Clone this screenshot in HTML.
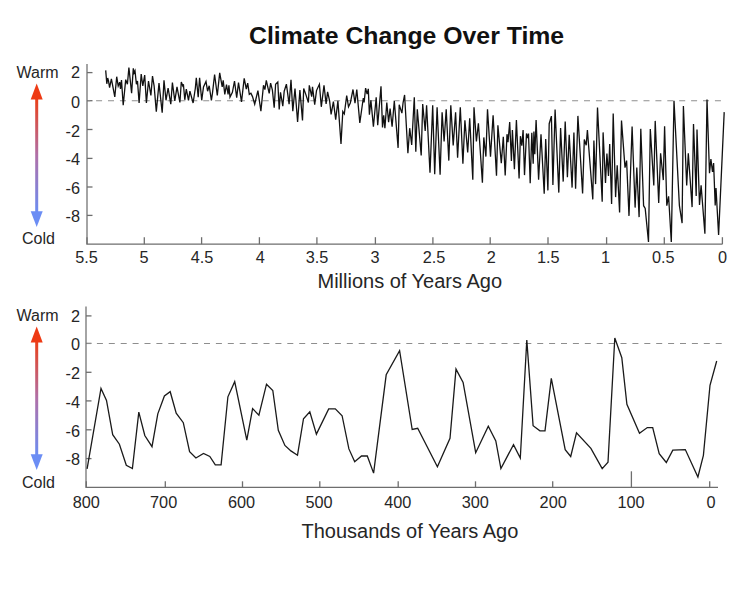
<!DOCTYPE html><html><head><meta charset="utf-8"><style>html,body{margin:0;padding:0;background:#fff;width:744px;height:595px;overflow:hidden}</style></head><body><svg width="744" height="595" viewBox="0 0 744 595" style="position:absolute;left:0;top:0">
<defs><linearGradient id="g" x1="0" y1="0" x2="0" y2="1"><stop offset="0" stop-color="#ec3a12"/><stop offset="1" stop-color="#6a8cf2"/></linearGradient></defs>
<text x="249" y="43.6" font-family="Liberation Sans, sans-serif" font-weight="bold" font-size="24.8" fill="#111">Climate Change Over Time</text>
<rect x="35.2" y="98.5" width="3" height="113.69999999999999" fill="url(#g0)"/>
<defs><linearGradient id="g0" gradientUnits="userSpaceOnUse" x1="0" y1="99.5" x2="0" y2="211.2"><stop offset="0" stop-color="#e9401a"/><stop offset="0.5" stop-color="#b070a8"/><stop offset="1" stop-color="#6d8cf0"/></linearGradient></defs>
<polygon points="36.7,83.5 42.7,99.5 30.700000000000003,99.5" fill="#ee3a14"/>
<polygon points="36.7,226.9 42.7,211.2 30.700000000000003,211.2" fill="#6b8df4"/>
<text x="16.5" y="78.1" font-family="Liberation Sans, sans-serif" font-size="16" fill="#262626">Warm</text>
<text x="22" y="244.4" font-family="Liberation Sans, sans-serif" font-size="16" fill="#262626">Cold</text>
<line x1="87.0" y1="72.6" x2="92.5" y2="72.6" stroke="#6e6e6e" stroke-width="1.3"/>
<text x="80" y="77.80" text-anchor="end" font-family="Liberation Sans, sans-serif" font-size="16.3" fill="#262626">2</text>
<line x1="87.0" y1="100.7" x2="92.5" y2="100.7" stroke="#6e6e6e" stroke-width="1.3"/>
<text x="80" y="107.90" text-anchor="end" font-family="Liberation Sans, sans-serif" font-size="16.3" fill="#262626">0</text>
<line x1="87.0" y1="129.5" x2="92.5" y2="129.5" stroke="#6e6e6e" stroke-width="1.3"/>
<text x="80" y="136.90" text-anchor="end" font-family="Liberation Sans, sans-serif" font-size="16.3" fill="#262626">-2</text>
<line x1="87.0" y1="158.4" x2="92.5" y2="158.4" stroke="#6e6e6e" stroke-width="1.3"/>
<text x="80" y="164.60" text-anchor="end" font-family="Liberation Sans, sans-serif" font-size="16.3" fill="#262626">-4</text>
<line x1="87.0" y1="187.0" x2="92.5" y2="187.0" stroke="#6e6e6e" stroke-width="1.3"/>
<text x="80" y="193.60" text-anchor="end" font-family="Liberation Sans, sans-serif" font-size="16.3" fill="#262626">-6</text>
<line x1="87.0" y1="215.4" x2="92.5" y2="215.4" stroke="#6e6e6e" stroke-width="1.3"/>
<text x="80" y="222.00" text-anchor="end" font-family="Liberation Sans, sans-serif" font-size="16.3" fill="#262626">-8</text>
<line x1="87.0" y1="100.7" x2="721.5" y2="100.7" stroke="#8e8e8e" stroke-width="1.15" stroke-dasharray="6 5.9" stroke-dashoffset="2.799999999999997"/>
<line x1="87" y1="244.2" x2="87" y2="237.2" stroke="#6e6e6e" stroke-width="1.3"/>
<text x="86.60" y="262.9" text-anchor="middle" font-family="Liberation Sans, sans-serif" font-size="16.3" fill="#262626">5.5</text>
<line x1="144.3" y1="244.2" x2="144.3" y2="237.2" stroke="#6e6e6e" stroke-width="1.3"/>
<text x="144.00" y="262.9" text-anchor="middle" font-family="Liberation Sans, sans-serif" font-size="16.3" fill="#262626">5</text>
<line x1="201.6" y1="244.2" x2="201.6" y2="237.2" stroke="#6e6e6e" stroke-width="1.3"/>
<text x="202.05" y="262.9" text-anchor="middle" font-family="Liberation Sans, sans-serif" font-size="16.3" fill="#262626">4.5</text>
<line x1="259.4" y1="244.2" x2="259.4" y2="237.2" stroke="#6e6e6e" stroke-width="1.3"/>
<text x="260.25" y="262.9" text-anchor="middle" font-family="Liberation Sans, sans-serif" font-size="16.3" fill="#262626">4</text>
<line x1="316.9" y1="244.2" x2="316.9" y2="237.2" stroke="#6e6e6e" stroke-width="1.3"/>
<text x="317.10" y="262.9" text-anchor="middle" font-family="Liberation Sans, sans-serif" font-size="16.3" fill="#262626">3.5</text>
<line x1="375.4" y1="244.2" x2="375.4" y2="237.2" stroke="#6e6e6e" stroke-width="1.3"/>
<text x="375.05" y="262.9" text-anchor="middle" font-family="Liberation Sans, sans-serif" font-size="16.3" fill="#262626">3</text>
<line x1="432.9" y1="244.2" x2="432.9" y2="237.2" stroke="#6e6e6e" stroke-width="1.3"/>
<text x="434.05" y="262.9" text-anchor="middle" font-family="Liberation Sans, sans-serif" font-size="16.3" fill="#262626">2.5</text>
<line x1="490.2" y1="244.2" x2="490.2" y2="237.2" stroke="#6e6e6e" stroke-width="1.3"/>
<text x="491.40" y="262.9" text-anchor="middle" font-family="Liberation Sans, sans-serif" font-size="16.3" fill="#262626">2</text>
<line x1="548" y1="244.2" x2="548" y2="237.2" stroke="#6e6e6e" stroke-width="1.3"/>
<text x="548.35" y="262.9" text-anchor="middle" font-family="Liberation Sans, sans-serif" font-size="16.3" fill="#262626">1.5</text>
<line x1="606.6" y1="244.2" x2="606.6" y2="237.2" stroke="#6e6e6e" stroke-width="1.3"/>
<text x="605.60" y="262.9" text-anchor="middle" font-family="Liberation Sans, sans-serif" font-size="16.3" fill="#262626">1</text>
<line x1="664.3" y1="244.2" x2="664.3" y2="237.2" stroke="#6e6e6e" stroke-width="1.3"/>
<text x="663.25" y="262.9" text-anchor="middle" font-family="Liberation Sans, sans-serif" font-size="16.3" fill="#262626">0.5</text>
<line x1="722.4" y1="244.2" x2="722.4" y2="237.2" stroke="#6e6e6e" stroke-width="1.3"/>
<text x="722.50" y="262.9" text-anchor="middle" font-family="Liberation Sans, sans-serif" font-size="16.3" fill="#262626">0</text>
<text x="317.5" y="288.1" font-family="Liberation Sans, sans-serif" font-size="20" fill="#262626">Millions of Years Ago</text>
<rect x="35.2" y="341.5" width="3" height="113.69999999999999" fill="url(#g243)"/>
<defs><linearGradient id="g243" gradientUnits="userSpaceOnUse" x1="0" y1="342.5" x2="0" y2="454.2"><stop offset="0" stop-color="#e9401a"/><stop offset="0.5" stop-color="#b070a8"/><stop offset="1" stop-color="#6d8cf0"/></linearGradient></defs>
<polygon points="36.7,326.5 42.7,342.5 30.700000000000003,342.5" fill="#ee3a14"/>
<polygon points="36.7,469.9 42.7,454.2 30.700000000000003,454.2" fill="#6b8df4"/>
<text x="16.5" y="321.1" font-family="Liberation Sans, sans-serif" font-size="16" fill="#262626">Warm</text>
<text x="22" y="488.0" font-family="Liberation Sans, sans-serif" font-size="16" fill="#262626">Cold</text>
<line x1="86.0" y1="315.9" x2="91.5" y2="315.9" stroke="#6e6e6e" stroke-width="1.3"/>
<text x="80" y="322.20" text-anchor="end" font-family="Liberation Sans, sans-serif" font-size="16.3" fill="#262626">2</text>
<line x1="86.0" y1="343.4" x2="91.5" y2="343.4" stroke="#6e6e6e" stroke-width="1.3"/>
<text x="80" y="350.00" text-anchor="end" font-family="Liberation Sans, sans-serif" font-size="16.3" fill="#262626">0</text>
<line x1="86.0" y1="372.3" x2="91.5" y2="372.3" stroke="#6e6e6e" stroke-width="1.3"/>
<text x="80" y="378.90" text-anchor="end" font-family="Liberation Sans, sans-serif" font-size="16.3" fill="#262626">-2</text>
<line x1="86.0" y1="400.9" x2="91.5" y2="400.9" stroke="#6e6e6e" stroke-width="1.3"/>
<text x="80" y="407.90" text-anchor="end" font-family="Liberation Sans, sans-serif" font-size="16.3" fill="#262626">-4</text>
<line x1="86.0" y1="429.8" x2="91.5" y2="429.8" stroke="#6e6e6e" stroke-width="1.3"/>
<text x="80" y="436.60" text-anchor="end" font-family="Liberation Sans, sans-serif" font-size="16.3" fill="#262626">-6</text>
<line x1="86.0" y1="458.6" x2="91.5" y2="458.6" stroke="#6e6e6e" stroke-width="1.3"/>
<text x="80" y="465.30" text-anchor="end" font-family="Liberation Sans, sans-serif" font-size="16.3" fill="#262626">-8</text>
<line x1="86.0" y1="343.5" x2="722.3" y2="343.5" stroke="#8e8e8e" stroke-width="1.15" stroke-dasharray="6 5.9" stroke-dashoffset="1.0"/>
<line x1="86.3" y1="487.3" x2="86.3" y2="481.3" stroke="#6e6e6e" stroke-width="1.3"/>
<text x="86.30" y="508.2" text-anchor="middle" font-family="Liberation Sans, sans-serif" font-size="16.3" fill="#262626">800</text>
<line x1="165.3" y1="487.3" x2="165.3" y2="481.3" stroke="#6e6e6e" stroke-width="1.3"/>
<text x="163.65" y="508.2" text-anchor="middle" font-family="Liberation Sans, sans-serif" font-size="16.3" fill="#262626">700</text>
<line x1="242.5" y1="487.3" x2="242.5" y2="481.3" stroke="#6e6e6e" stroke-width="1.3"/>
<text x="241.55" y="508.2" text-anchor="middle" font-family="Liberation Sans, sans-serif" font-size="16.3" fill="#262626">600</text>
<line x1="319.8" y1="487.3" x2="319.8" y2="481.3" stroke="#6e6e6e" stroke-width="1.3"/>
<text x="319.00" y="508.2" text-anchor="middle" font-family="Liberation Sans, sans-serif" font-size="16.3" fill="#262626">500</text>
<line x1="398.2" y1="487.3" x2="398.2" y2="481.3" stroke="#6e6e6e" stroke-width="1.3"/>
<text x="397.75" y="508.2" text-anchor="middle" font-family="Liberation Sans, sans-serif" font-size="16.3" fill="#262626">400</text>
<line x1="475.5" y1="487.3" x2="475.5" y2="481.3" stroke="#6e6e6e" stroke-width="1.3"/>
<text x="475.25" y="508.2" text-anchor="middle" font-family="Liberation Sans, sans-serif" font-size="16.3" fill="#262626">300</text>
<line x1="552.7" y1="487.3" x2="552.7" y2="481.3" stroke="#6e6e6e" stroke-width="1.3"/>
<text x="553.20" y="508.2" text-anchor="middle" font-family="Liberation Sans, sans-serif" font-size="16.3" fill="#262626">200</text>
<line x1="631.4" y1="487.3" x2="631.4" y2="471.3" stroke="#6e6e6e" stroke-width="1.3"/>
<text x="631.10" y="508.2" text-anchor="middle" font-family="Liberation Sans, sans-serif" font-size="16.3" fill="#262626">100</text>
<line x1="709.7" y1="487.3" x2="709.7" y2="481.3" stroke="#6e6e6e" stroke-width="1.3"/>
<text x="711.10" y="508.2" text-anchor="middle" font-family="Liberation Sans, sans-serif" font-size="16.3" fill="#262626">0</text>
<text x="301.5" y="538.2" font-family="Liberation Sans, sans-serif" font-size="20" fill="#262626">Thousands of Years Ago</text>
<polyline points="87.0,64 87.0,244.2 722.4,244.2" fill="none" stroke="#6e6e6e" stroke-width="1.25"/>
<polyline points="86.0,306.4 86.0,487.3 718,487.3" fill="none" stroke="#6e6e6e" stroke-width="1.25"/>
<polyline points="105.7,70.4 106.8,83.8 107.7,78.0 108.5,80.9 109.6,87.6 111.4,78.8 114.8,96.9 116.7,76.7 118.2,86.0 119.7,82.2 120.5,88.9 121.5,80.1 123.2,105.3 125.7,79.6 127.4,84.3 128.9,67.5 131.6,93.1 133.3,68.3 134.1,72.9 135.0,70.8 136.4,84.2 137.5,81.0 139.1,103.0 141.2,74.0 142.8,85.8 144.7,75.1 146.4,103.0 148.5,81.0 150.9,95.5 152.5,76.1 154.1,85.8 156.3,111.6 159.0,83.1 162.2,112.7 164.0,80.4 166.0,100.3 168.1,88.0 170.8,104.1 172.4,82.6 174.8,100.9 177.0,86.9 179.9,102.5 181.3,82.0 182.7,85.8 183.4,84.2 184.8,99.8 186.3,89.0 188.5,100.3 189.9,91.2 193.1,103.0 195.3,88.5 196.3,77.7 198.2,97.1 199.6,77.7 201.7,100.3 203.5,86.9 206.0,81.5 207.6,91.2 209.2,85.8 211.4,100.3 212.5,92.8 214.6,74.5 217.3,95.5 219.7,72.9 222.2,86.9 223.2,80.4 224.8,94.4 226.5,84.7 228.1,94.4 228.9,85.3 230.0,97.1 232.4,92.3 234.5,81.0 236.7,97.6 238.5,82.6 241.5,101.9 244.2,78.3 246.3,89.0 247.7,83.1 249.3,94.4 250.9,93.3 252.5,96.6 254.7,104.1 257.9,90.6 260.9,111.1 263.5,85.3 264.9,89.6 266.3,80.4 269.2,93.3 270.6,83.1 272.4,90.1 274.2,107.8 275.6,84.2 277.8,82.0 279.2,109.5 280.5,92.3 282.8,106.2 284.2,91.2 286.4,84.2 289.1,104.1 291.0,79.9 292.8,111.1 295.0,88.5 297.6,122.0 299.9,90.1 302.5,120.5 303.7,88.5 305.8,94.4 308.4,102.5 309.3,85.3 311.7,96.6 312.5,86.9 314.7,104.6 316.5,90.6 319.4,84.2 321.3,106.8 324.0,85.3 326.1,103.9 327.6,91.8 329.6,100.8 331.1,114.4 333.4,101.6 335.7,119.7 337.9,100.8 341.0,143.9 342.8,111.5 344.3,113.8 346.7,95.5 348.5,106.9 350.3,103.1 353.0,89.5 355.0,103.1 356.8,89.5 359.8,122.9 363.3,98.0 364.1,102.5 365.6,88.1 367.1,94.2 368.3,88.9 369.4,114.6 370.9,100.2 373.4,126.7 376.2,97.2 377.7,125.2 381.0,86.3 382.5,127.5 383.7,115.4 384.9,128.2 386.8,102.5 388.6,122.2 390.1,108.6 392.1,126.7 394.3,101.0 398.1,147.9 399.2,104.8 401.9,113.1 403.1,102.5 404.6,95.0 407.9,153.2 409.7,128.2 411.7,144.9 414.3,97.2 415.8,151.7 417.3,109.3 421.2,155.4 422.7,104.0 425.2,131.0 426.6,105.2 430.0,172.7 432.7,105.2 434.7,174.3 437.1,107.2 440.1,174.7 442.1,112.2 444.1,141.5 446.2,109.2 448.8,160.6 450.8,105.2 453.2,145.5 455.6,112.2 457.6,157.6 460.3,107.2 462.9,163.6 464.9,120.3 467.7,152.5 469.7,118.3 472.8,179.7 474.0,107.2 476.4,141.5 478.4,123.3 482.4,182.8 483.8,137.4 485.9,156.6 487.5,109.2 490.5,156.6 493.1,115.3 496.5,175.7 497.9,125.3 501.3,163.3 503.3,136.8 505.2,175.5 507.0,134.2 508.0,142.2 509.7,122.1 511.4,161.0 512.4,130.1 514.4,169.1 516.4,120.1 519.1,178.5 520.4,136.2 521.8,145.6 523.1,130.1 524.5,175.1 526.5,133.5 527.6,138.2 528.5,133.5 530.2,183.2 531.8,132.8 533.2,163.7 533.9,131.5 534.8,154.3 536.1,120.1 538.6,179.8 541.0,134.2 544.2,193.7 545.7,139.0 547.9,190.4 549.2,123.7 551.4,116.1 552.9,184.9 555.1,109.5 558.8,192.6 560.6,128.1 563.2,181.6 565.2,121.6 567.4,177.1 569.2,134.7 572.1,187.6 573.9,132.4 575.6,188.8 577.9,115.9 582.6,193.5 584.3,139.4 586.2,145.3 587.4,130.0 592.8,199.4 593.9,140.6 595.6,184.1 597.5,107.6 602.2,201.8 603.1,132.4 605.5,182.9 606.9,153.5 608.5,175.9 609.7,144.1 611.6,204.1 613.2,113.5 615.6,197.1 617.2,165.3 619.6,212.4 621.5,120.6 625.0,167.6 626.6,160.6 629.0,215.9 632.1,126.5 635.1,207.6 636.8,167.6 639.1,217.1 640.8,128.8 643.6,205.7 645.2,208.4 648.5,242.0 650.3,129.0 653.8,185.5 655.2,120.9 658.7,203.0 660.6,153.2 663.3,180.1 664.6,126.3 666.8,205.7 668.6,196.3 671.3,242.0 674.0,100.8 679.4,205.7 682.1,223.2 683.4,106.1 686.7,185.5 688.3,153.2 692.1,207.1 693.5,124.0 696.2,196.0 697.0,129.5 699.5,205.0 701.1,185.4 704.9,233.8 707.0,99.6 709.5,173.3 710.9,159.0 712.5,172.0 713.6,163.0 715.2,205.5 716.0,188.0 718.6,235.0 724.2,112.1" fill="none" stroke="#111" stroke-width="1.3" stroke-linejoin="miter"/>
<polyline points="87.1,468.8 101.0,388.5 106.5,400.5 112.7,434.7 119.4,444.2 126.3,465.2 132.4,468.5 138.8,412.1 144.8,435.5 152.0,446.7 157.8,413.8 164.4,396.0 170.2,391.7 176.2,413.1 183.3,422.7 189.6,451.7 195.9,458.0 203.5,453.5 209.8,456.5 215.3,464.8 221.1,464.8 227.9,396.8 234.7,381.7 246.8,440.1 252.6,408.6 258.9,415.2 266.5,384.2 272.8,390.5 278.3,430.3 284.9,445.4 290.9,450.9 297.5,455.2 303.5,418.7 309.8,411.9 316.4,434.1 328.7,408.9 335.3,408.9 342.1,415.7 348.9,448.9 354.7,461.8 361.5,456.0 367.3,456.0 373.6,473.1 386.2,374.8 399.6,350.7 412.2,429.5 417.7,428.3 437.4,466.8 450.0,438.3 456.0,369.1 463.1,382.4 475.7,452.7 488.3,426.2 495.8,440.9 500.9,468.6 513.5,444.6 520.3,458.0 526.8,340.1 533.1,425.7 539.9,430.8 545.0,430.8 551.3,378.4 565.2,449.7 570.7,456.5 576.5,432.8 590.9,448.4 602.2,468.6 608.0,462.3 614.8,338.0 621.8,357.7 626.9,404.3 639.5,433.3 647.3,427.6 652.7,427.6 659.2,453.7 666.3,462.5 672.8,450.1 685.3,449.6 697.9,477.0 703.4,455.3 710.0,385.3 716.7,361.0" fill="none" stroke="#1a1a1a" stroke-width="1.3"/>
</svg></body></html>
